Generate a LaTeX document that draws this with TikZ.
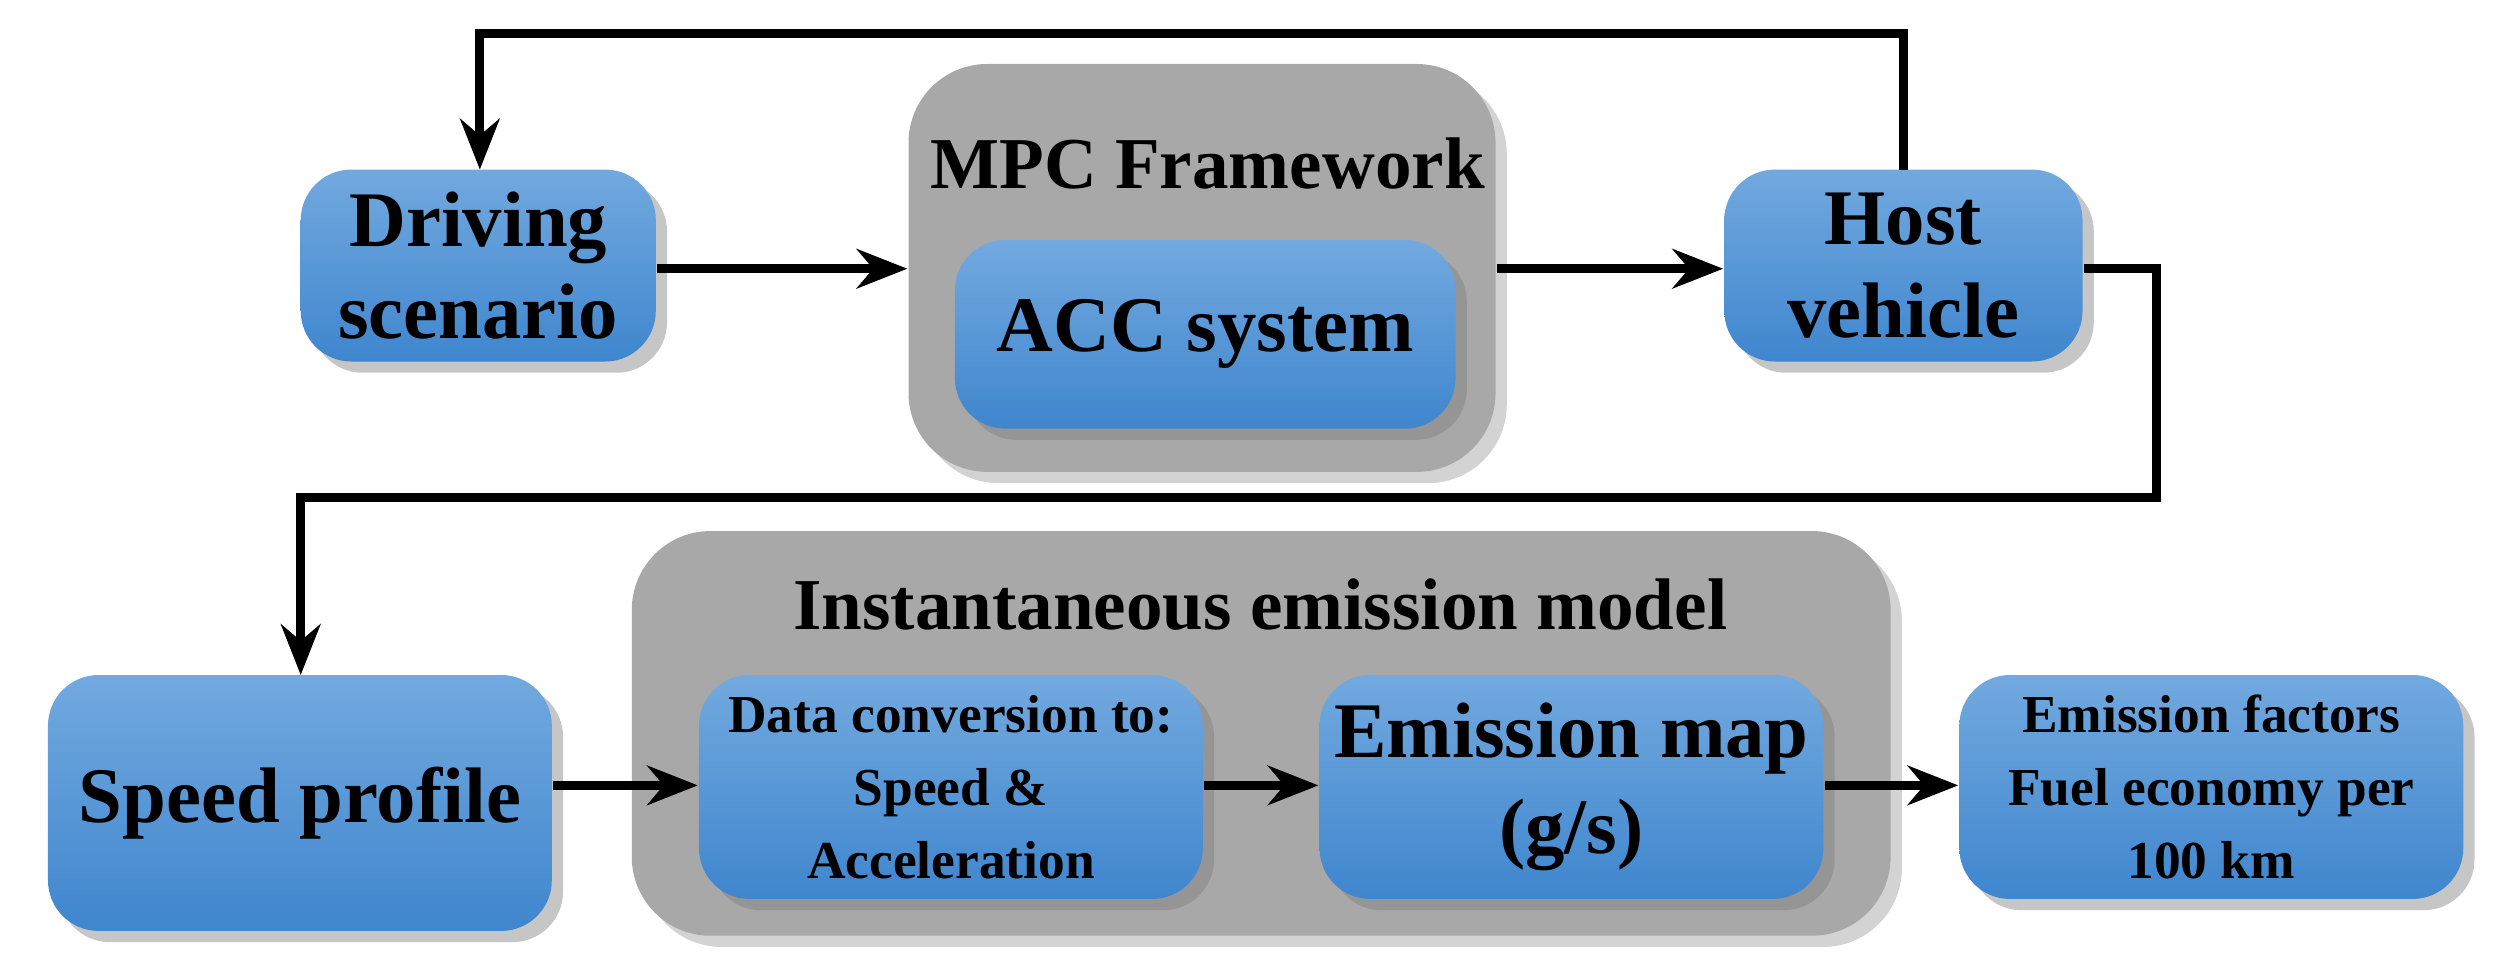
\documentclass[tikz,border=0pt]{standalone}
\usepackage{fontspec}
\setmainfont{Liberation Serif}
\usetikzlibrary{shadows,arrows.meta}
\definecolor{btop}{HTML}{72A9DF}
\definecolor{bbot}{HTML}{3F86CE}
\definecolor{gbox}{HTML}{A8A8A8}
\tikzset{
 blue/.style={rounded corners=9pt,top color=btop,bottom color=bbot,draw=none,drop shadow={opacity=0.45,shadow xshift=2pt,shadow yshift=-2pt},align=center,font=\bfseries},
 gray/.style={rounded corners=14pt,fill=gbox,draw=none,drop shadow={opacity=0.35,shadow xshift=2pt,shadow yshift=-2pt}},
 arr/.style={line width=1.6pt,-{Stealth[length=9pt,width=7pt]}},
}
\newcommand{\bx}[6]{\node[#6,minimum width=#3cm-#1cm,minimum height=#4cm-#2cm] (#5) at ({(#1+#3)/2},{-(#2+#4)/2}) {};}
\begin{document}
\begin{tikzpicture}
\useasboundingbox (0,0) rectangle (15.68,-6.11);
\bx{5.68}{0.40}{9.35}{2.95}{mpc}{gray}
\bx{3.95}{3.32}{11.82}{5.85}{inst}{gray}
\bx{1.88}{1.06}{4.10}{2.26}{drv}{blue}
\bx{5.97}{1.50}{9.10}{2.68}{acc}{blue}
\bx{10.78}{1.06}{13.02}{2.26}{host}{blue}
\bx{0.30}{4.22}{3.45}{5.82}{spd}{blue}
\bx{4.37}{4.22}{7.52}{5.62}{data}{blue}
\bx{8.25}{4.22}{11.40}{5.62}{emap}{blue}
\bx{12.25}{4.22}{15.40}{5.62}{fac}{blue}
\node[font=\bfseries\fontsize{13}{15}\selectfont] at (7.55,-1.02) {MPC Framework};
\node[font=\bfseries\fontsize{13}{15}\selectfont] at (7.88,-3.78) {Instantaneous emission model};
\node[align=center,font=\bfseries\fontsize{14}{16.5}\selectfont] at (drv) {Driving\\scenario};
\node[align=center,font=\bfseries\fontsize{14}{16.5}\selectfont] at (acc) {ACC system};
\node[align=center,font=\bfseries\fontsize{14}{16.5}\selectfont] at (host) {Host\\vehicle};
\node[align=center,font=\bfseries\fontsize{14}{16.5}\selectfont] at (spd) {Speed profile};
\node[align=center,font=\bfseries\fontsize{9.5}{13}\selectfont] at (data) {Data conversion to:\\Speed \&\\Acceleration};
\node[align=center,font=\bfseries\fontsize{14}{17}\selectfont] at (emap) {Emission map\\(g/s)};
\node[align=center,font=\bfseries\fontsize{9.5}{13}\selectfont] at (fac) {Emission factors\\Fuel economy per\\100 km};
\draw[arr] (drv.east |- 0,-1.68) -- (mpc.west |- 0,-1.68);
\draw[arr] (mpc.east |- 0,-1.68) -- (host.west |- 0,-1.68);
\draw[arr] (11.90,-1.06) -- (11.90,-0.21) -- (3.00,-0.21) -- (3.00,-1.06);
\draw[arr] (host.east |- 0,-1.68) -- (13.48,-1.68) -- (13.48,-3.11) -- (1.88,-3.11) -- (1.88,-4.22);
\draw[arr] (spd.east |- 0,-4.91) -- (data.west |- 0,-4.91);
\draw[arr] (data.east |- 0,-4.91) -- (emap.west |- 0,-4.91);
\draw[arr] (emap.east |- 0,-4.91) -- (fac.west |- 0,-4.91);
\end{tikzpicture}
\end{document}
